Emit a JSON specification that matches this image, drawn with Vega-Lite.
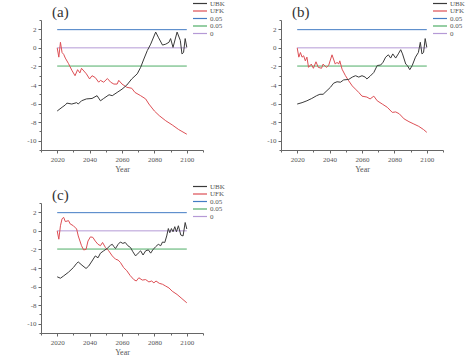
{
  "$schema": "https://vega.github.io/schema/vega-lite/v6.json",
  "background": "white",
  "padding": {"left": 26, "top": 0, "right": 0, "bottom": 0},
  "columns": 2,
  "spacing": {"row": 10, "column": 40},
  "data": {"values": [
    {"panel":"a","series":"0.05(+)","year":2020,"value":1.96},{"panel":"a","series":"0.05(+)","year":2100,"value":1.96},
    {"panel":"a","series":"0.05(-)","year":2020,"value":-1.96},{"panel":"a","series":"0.05(-)","year":2100,"value":-1.96},
    {"panel":"a","series":"0","year":2020,"value":0},{"panel":"a","series":"0","year":2100,"value":0},
    {"panel":"b","series":"0.05(+)","year":2020,"value":1.96},{"panel":"b","series":"0.05(+)","year":2100,"value":1.96},
    {"panel":"b","series":"0.05(-)","year":2020,"value":-1.96},{"panel":"b","series":"0.05(-)","year":2100,"value":-1.96},
    {"panel":"b","series":"0","year":2020,"value":0},{"panel":"b","series":"0","year":2100,"value":0},
    {"panel":"c","series":"0.05(+)","year":2020,"value":1.96},{"panel":"c","series":"0.05(+)","year":2100,"value":1.96},
    {"panel":"c","series":"0.05(-)","year":2020,"value":-1.96},{"panel":"c","series":"0.05(-)","year":2100,"value":-1.96},
    {"panel":"c","series":"0","year":2020,"value":0},{"panel":"c","series":"0","year":2100,"value":0},

    {"panel":"a","series":"UFK","year":2020,"value":0},{"panel":"a","series":"UFK","year":2021,"value":-1.0},{"panel":"a","series":"UFK","year":2022,"value":0.6},{"panel":"a","series":"UFK","year":2023,"value":-0.5},{"panel":"a","series":"UFK","year":2024,"value":-0.7},{"panel":"a","series":"UFK","year":2025,"value":-1.1},{"panel":"a","series":"UFK","year":2027,"value":-1.7},{"panel":"a","series":"UFK","year":2029,"value":-2.4},{"panel":"a","series":"UFK","year":2031,"value":-3.0},{"panel":"a","series":"UFK","year":2032.6,"value":-2.35},{"panel":"a","series":"UFK","year":2034,"value":-2.7},{"panel":"a","series":"UFK","year":2035,"value":-2.2},{"panel":"a","series":"UFK","year":2038,"value":-2.8},{"panel":"a","series":"UFK","year":2040,"value":-3.35},{"panel":"a","series":"UFK","year":2041.5,"value":-3.0},{"panel":"a","series":"UFK","year":2043.5,"value":-3.2},{"panel":"a","series":"UFK","year":2045.6,"value":-3.7},{"panel":"a","series":"UFK","year":2046.7,"value":-3.5},{"panel":"a","series":"UFK","year":2048.7,"value":-3.7},{"panel":"a","series":"UFK","year":2051,"value":-3.3},{"panel":"a","series":"UFK","year":2053,"value":-3.7},{"panel":"a","series":"UFK","year":2055,"value":-3.9},{"panel":"a","series":"UFK","year":2057,"value":-3.9},{"panel":"a","series":"UFK","year":2058,"value":-3.5},{"panel":"a","series":"UFK","year":2060,"value":-3.9},{"panel":"a","series":"UFK","year":2063,"value":-4.25},{"panel":"a","series":"UFK","year":2066,"value":-4.35},{"panel":"a","series":"UFK","year":2068,"value":-4.8},{"panel":"a","series":"UFK","year":2071.5,"value":-5.15},{"panel":"a","series":"UFK","year":2074.6,"value":-5.5},{"panel":"a","series":"UFK","year":2076.6,"value":-6.05},{"panel":"a","series":"UFK","year":2080,"value":-6.8},{"panel":"a","series":"UFK","year":2083,"value":-7.3},{"panel":"a","series":"UFK","year":2087,"value":-7.85},{"panel":"a","series":"UFK","year":2091,"value":-8.3},{"panel":"a","series":"UFK","year":2095,"value":-8.8},{"panel":"a","series":"UFK","year":2097,"value":-9.0},{"panel":"a","series":"UFK","year":2100,"value":-9.3},

    {"panel":"a","series":"UBK","year":2020,"value":-6.8},{"panel":"a","series":"UBK","year":2023,"value":-6.4},{"panel":"a","series":"UBK","year":2025,"value":-6.15},{"panel":"a","series":"UBK","year":2026,"value":-5.95},{"panel":"a","series":"UBK","year":2029,"value":-6.05},{"panel":"a","series":"UBK","year":2032,"value":-5.9},{"panel":"a","series":"UBK","year":2033,"value":-6.05},{"panel":"a","series":"UBK","year":2035,"value":-5.7},{"panel":"a","series":"UBK","year":2038,"value":-5.5},{"panel":"a","series":"UBK","year":2041.5,"value":-5.45},{"panel":"a","series":"UBK","year":2044.6,"value":-5.15},{"panel":"a","series":"UBK","year":2046.7,"value":-5.7},{"panel":"a","series":"UBK","year":2048.7,"value":-5.45},{"panel":"a","series":"UBK","year":2052,"value":-5.05},{"panel":"a","series":"UBK","year":2054,"value":-5.15},{"panel":"a","series":"UBK","year":2057,"value":-4.8},{"panel":"a","series":"UBK","year":2060,"value":-4.45},{"panel":"a","series":"UBK","year":2063,"value":-4.0},{"panel":"a","series":"UBK","year":2066,"value":-3.35},{"panel":"a","series":"UBK","year":2069.4,"value":-2.8},{"panel":"a","series":"UBK","year":2071.5,"value":-2.1},{"panel":"a","series":"UBK","year":2073.5,"value":-1.2},{"panel":"a","series":"UBK","year":2075.6,"value":-0.3},{"panel":"a","series":"UBK","year":2077.7,"value":0.4},{"panel":"a","series":"UBK","year":2080.8,"value":1.7},{"panel":"a","series":"UBK","year":2082.4,"value":1.15},{"panel":"a","series":"UBK","year":2085,"value":0.3},{"panel":"a","series":"UBK","year":2087,"value":0.4},{"panel":"a","series":"UBK","year":2089,"value":0.6},{"panel":"a","series":"UBK","year":2090,"value":1.0},{"panel":"a","series":"UBK","year":2091.5,"value":0.05},{"panel":"a","series":"UBK","year":2094,"value":1.7},{"panel":"a","series":"UBK","year":2096,"value":0.8},{"panel":"a","series":"UBK","year":2097,"value":-0.65},{"panel":"a","series":"UBK","year":2098,"value":-0.5},{"panel":"a","series":"UBK","year":2099,"value":1.0},{"panel":"a","series":"UBK","year":2100,"value":0.05},

    {"panel":"b","series":"UFK","year":2020,"value":0},{"panel":"b","series":"UFK","year":2021,"value":-1.0},{"panel":"b","series":"UFK","year":2022,"value":-0.5},{"panel":"b","series":"UFK","year":2023,"value":-1.0},{"panel":"b","series":"UFK","year":2024,"value":-0.85},{"panel":"b","series":"UFK","year":2025,"value":-1.4},{"panel":"b","series":"UFK","year":2026,"value":-1.0},{"panel":"b","series":"UFK","year":2027,"value":-2.1},{"panel":"b","series":"UFK","year":2028.7,"value":-1.75},{"panel":"b","series":"UFK","year":2030,"value":-2.2},{"panel":"b","series":"UFK","year":2031.6,"value":-1.5},{"panel":"b","series":"UFK","year":2033,"value":-2.1},{"panel":"b","series":"UFK","year":2035,"value":-2.2},{"panel":"b","series":"UFK","year":2036,"value":-1.75},{"panel":"b","series":"UFK","year":2038,"value":-2.1},{"panel":"b","series":"UFK","year":2039.4,"value":-1.9},{"panel":"b","series":"UFK","year":2041.5,"value":-0.75},{"panel":"b","series":"UFK","year":2043.5,"value":-1.75},{"panel":"b","series":"UFK","year":2044.6,"value":-1.55},{"panel":"b","series":"UFK","year":2045.6,"value":-1.75},{"panel":"b","series":"UFK","year":2046.3,"value":-1.4},{"panel":"b","series":"UFK","year":2047.7,"value":-2.3},{"panel":"b","series":"UFK","year":2049.8,"value":-3.0},{"panel":"b","series":"UFK","year":2051.8,"value":-3.55},{"panel":"b","series":"UFK","year":2054,"value":-4.1},{"panel":"b","series":"UFK","year":2056,"value":-4.45},{"panel":"b","series":"UFK","year":2058,"value":-4.8},{"panel":"b","series":"UFK","year":2060,"value":-5.2},{"panel":"b","series":"UFK","year":2063,"value":-5.3},{"panel":"b","series":"UFK","year":2065,"value":-5.5},{"panel":"b","series":"UFK","year":2067.3,"value":-5.2},{"panel":"b","series":"UFK","year":2069.4,"value":-5.7},{"panel":"b","series":"UFK","year":2072.5,"value":-6.05},{"panel":"b","series":"UFK","year":2075.6,"value":-6.4},{"panel":"b","series":"UFK","year":2078.7,"value":-6.95},{"panel":"b","series":"UFK","year":2080.8,"value":-6.9},{"panel":"b","series":"UFK","year":2083,"value":-7.1},{"panel":"b","series":"UFK","year":2086,"value":-7.65},{"panel":"b","series":"UFK","year":2089,"value":-7.95},{"panel":"b","series":"UFK","year":2092,"value":-8.2},{"panel":"b","series":"UFK","year":2095,"value":-8.45},{"panel":"b","series":"UFK","year":2098,"value":-8.8},{"panel":"b","series":"UFK","year":2100,"value":-9.1},

    {"panel":"b","series":"UBK","year":2020,"value":-6.05},{"panel":"b","series":"UBK","year":2023,"value":-5.9},{"panel":"b","series":"UBK","year":2026,"value":-5.7},{"panel":"b","series":"UBK","year":2029,"value":-5.45},{"panel":"b","series":"UBK","year":2032,"value":-5.15},{"panel":"b","series":"UBK","year":2034,"value":-5.0},{"panel":"b","series":"UBK","year":2036,"value":-5.0},{"panel":"b","series":"UBK","year":2038.4,"value":-4.6},{"panel":"b","series":"UBK","year":2040.5,"value":-4.25},{"panel":"b","series":"UBK","year":2042.5,"value":-3.8},{"panel":"b","series":"UBK","year":2044.6,"value":-3.65},{"panel":"b","series":"UBK","year":2046.7,"value":-3.7},{"panel":"b","series":"UBK","year":2048.7,"value":-3.45},{"panel":"b","series":"UBK","year":2051.8,"value":-3.4},{"panel":"b","series":"UBK","year":2054,"value":-3.15},{"panel":"b","series":"UBK","year":2056,"value":-3.0},{"panel":"b","series":"UBK","year":2058,"value":-3.15},{"panel":"b","series":"UBK","year":2060,"value":-3.0},{"panel":"b","series":"UBK","year":2062,"value":-3.15},{"panel":"b","series":"UBK","year":2063,"value":-3.35},{"panel":"b","series":"UBK","year":2065,"value":-3.05},{"panel":"b","series":"UBK","year":2067.3,"value":-2.65},{"panel":"b","series":"UBK","year":2069.4,"value":-1.9},{"panel":"b","series":"UBK","year":2071.5,"value":-1.85},{"panel":"b","series":"UBK","year":2073,"value":-1.55},{"panel":"b","series":"UBK","year":2074.6,"value":-1.0},{"panel":"b","series":"UBK","year":2076.3,"value":-0.75},{"panel":"b","series":"UBK","year":2077.7,"value":-1.1},{"panel":"b","series":"UBK","year":2079,"value":-0.65},{"panel":"b","series":"UBK","year":2080.8,"value":-1.1},{"panel":"b","series":"UBK","year":2082.4,"value":-0.65},{"panel":"b","series":"UBK","year":2083.9,"value":-0.2},{"panel":"b","series":"UBK","year":2085,"value":-0.65},{"panel":"b","series":"UBK","year":2087,"value":-1.75},{"panel":"b","series":"UBK","year":2088,"value":-1.9},{"panel":"b","series":"UBK","year":2089.5,"value":-2.35},{"panel":"b","series":"UBK","year":2091,"value":-1.9},{"panel":"b","series":"UBK","year":2093,"value":-1.0},{"panel":"b","series":"UBK","year":2094.8,"value":-0.5},{"panel":"b","series":"UBK","year":2096,"value":0.6},{"panel":"b","series":"UBK","year":2097,"value":-0.65},{"panel":"b","series":"UBK","year":2098,"value":-0.5},{"panel":"b","series":"UBK","year":2099,"value":1.0},{"panel":"b","series":"UBK","year":2100,"value":0.05},

    {"panel":"c","series":"UFK","year":2020,"value":0},{"panel":"c","series":"UFK","year":2021,"value":-0.9},{"panel":"c","series":"UFK","year":2022,"value":0.55},{"panel":"c","series":"UFK","year":2023,"value":1.3},{"panel":"c","series":"UFK","year":2024,"value":1.45},{"panel":"c","series":"UFK","year":2025,"value":1.0},{"panel":"c","series":"UFK","year":2027,"value":1.1},{"panel":"c","series":"UFK","year":2028,"value":0.75},{"panel":"c","series":"UFK","year":2030,"value":0.55},{"panel":"c","series":"UFK","year":2032,"value":0.2},{"panel":"c","series":"UFK","year":2033,"value":-0.55},{"panel":"c","series":"UFK","year":2035,"value":-1.6},{"panel":"c","series":"UFK","year":2036.3,"value":-2.05},{"panel":"c","series":"UFK","year":2037.8,"value":-2.0},{"panel":"c","series":"UFK","year":2039,"value":-1.1},{"panel":"c","series":"UFK","year":2040.5,"value":-0.65},{"panel":"c","series":"UFK","year":2042,"value":-0.7},{"panel":"c","series":"UFK","year":2043.5,"value":-1.1},{"panel":"c","series":"UFK","year":2045.2,"value":-1.45},{"panel":"c","series":"UFK","year":2046.7,"value":-1.6},{"panel":"c","series":"UFK","year":2048,"value":-1.25},{"panel":"c","series":"UFK","year":2049.8,"value":-1.8},{"panel":"c","series":"UFK","year":2051.8,"value":-2.15},{"panel":"c","series":"UFK","year":2054,"value":-2.7},{"panel":"c","series":"UFK","year":2056,"value":-3.05},{"panel":"c","series":"UFK","year":2057.6,"value":-3.15},{"panel":"c","series":"UFK","year":2059,"value":-3.4},{"panel":"c","series":"UFK","year":2061,"value":-3.95},{"panel":"c","series":"UFK","year":2063,"value":-4.3},{"panel":"c","series":"UFK","year":2065,"value":-4.8},{"panel":"c","series":"UFK","year":2067.3,"value":-5.25},{"panel":"c","series":"UFK","year":2068.8,"value":-5.4},{"panel":"c","series":"UFK","year":2070.4,"value":-5.05},{"panel":"c","series":"UFK","year":2072.5,"value":-5.3},{"panel":"c","series":"UFK","year":2074.6,"value":-5.25},{"panel":"c","series":"UFK","year":2076.6,"value":-5.5},{"panel":"c","series":"UFK","year":2078.3,"value":-5.4},{"panel":"c","series":"UFK","year":2079.7,"value":-5.6},{"panel":"c","series":"UFK","year":2081,"value":-5.4},{"panel":"c","series":"UFK","year":2083,"value":-5.65},{"panel":"c","series":"UFK","year":2085,"value":-5.75},{"panel":"c","series":"UFK","year":2087,"value":-5.95},{"panel":"c","series":"UFK","year":2089,"value":-6.15},{"panel":"c","series":"UFK","year":2091,"value":-6.5},{"panel":"c","series":"UFK","year":2094,"value":-6.85},{"panel":"c","series":"UFK","year":2097,"value":-7.3},{"panel":"c","series":"UFK","year":2100,"value":-7.75},

    {"panel":"c","series":"UBK","year":2020,"value":-4.95},{"panel":"c","series":"UBK","year":2022,"value":-5.1},{"panel":"c","series":"UBK","year":2024,"value":-4.85},{"panel":"c","series":"UBK","year":2027,"value":-4.45},{"panel":"c","series":"UBK","year":2030,"value":-3.95},{"panel":"c","series":"UBK","year":2032,"value":-3.5},{"panel":"c","series":"UBK","year":2033,"value":-3.35},{"panel":"c","series":"UBK","year":2035.3,"value":-3.7},{"panel":"c","series":"UBK","year":2037.8,"value":-4.05},{"panel":"c","series":"UBK","year":2039.4,"value":-3.8},{"panel":"c","series":"UBK","year":2041.5,"value":-3.25},{"panel":"c","series":"UBK","year":2043.5,"value":-2.7},{"panel":"c","series":"UBK","year":2045.2,"value":-2.9},{"panel":"c","series":"UBK","year":2046.7,"value":-2.4},{"panel":"c","series":"UBK","year":2048.7,"value":-2.15},{"panel":"c","series":"UBK","year":2050.8,"value":-1.9},{"panel":"c","series":"UBK","year":2052.9,"value":-1.55},{"panel":"c","series":"UBK","year":2054,"value":-1.45},{"panel":"c","series":"UBK","year":2055,"value":-1.7},{"panel":"c","series":"UBK","year":2056,"value":-1.9},{"panel":"c","series":"UBK","year":2057.6,"value":-1.45},{"panel":"c","series":"UBK","year":2059,"value":-1.2},{"panel":"c","series":"UBK","year":2060.5,"value":-1.35},{"panel":"c","series":"UBK","year":2062,"value":-1.25},{"panel":"c","series":"UBK","year":2063.6,"value":-1.6},{"panel":"c","series":"UBK","year":2065.3,"value":-1.8},{"panel":"c","series":"UBK","year":2066.7,"value":-2.25},{"panel":"c","series":"UBK","year":2068.4,"value":-2.7},{"panel":"c","series":"UBK","year":2070,"value":-2.4},{"panel":"c","series":"UBK","year":2071.5,"value":-2.15},{"panel":"c","series":"UBK","year":2073,"value":-2.6},{"panel":"c","series":"UBK","year":2074.6,"value":-2.15},{"panel":"c","series":"UBK","year":2076.3,"value":-2.05},{"panel":"c","series":"UBK","year":2077.7,"value":-2.4},{"panel":"c","series":"UBK","year":2079,"value":-2.05},{"panel":"c","series":"UBK","year":2080.8,"value":-1.7},{"panel":"c","series":"UBK","year":2082.4,"value":-1.45},{"panel":"c","series":"UBK","year":2083.9,"value":-1.6},{"panel":"c","series":"UBK","year":2085,"value":-1.2},{"panel":"c","series":"UBK","year":2086.4,"value":-1.25},{"panel":"c","series":"UBK","year":2087.6,"value":-0.55},{"panel":"c","series":"UBK","year":2088.6,"value":0.25},{"panel":"c","series":"UBK","year":2089.5,"value":-0.2},{"panel":"c","series":"UBK","year":2090.5,"value":0.25},{"panel":"c","series":"UBK","year":2091.5,"value":-0.1},{"panel":"c","series":"UBK","year":2092.6,"value":0.45},{"panel":"c","series":"UBK","year":2093.6,"value":-0.1},{"panel":"c","series":"UBK","year":2094.8,"value":0.55},{"panel":"c","series":"UBK","year":2096.3,"value":-0.45},{"panel":"c","series":"UBK","year":2097.7,"value":-0.55},{"panel":"c","series":"UBK","year":2099,"value":0.9},{"panel":"c","series":"UBK","year":2100,"value":0.2}
  ]},
  "concat": [
    {
      "title": {"text": "(a)"},
      "width": 162, "height": 130,
      "transform": [{"filter": "datum.panel == 'a'"}],
      "mark": {"type": "line", "strokeWidth": 1},
      "encoding": {
        "x": {"field": "year", "type": "quantitative", "scale": {"domain": [2010, 2110], "nice": false, "zero": false}, "axis": {"title": "Year", "values": [2010, 2020, 2030, 2040, 2050, 2060, 2070, 2080, 2090, 2100, 2110], "labelExpr": "datum.value % 20 == 0 && datum.value >= 2020 && datum.value <= 2100 ? '' + datum.value : ''", "tickSize": {"condition": {"test": "datum.value % 20 != 0", "value": 2}, "value": 3}}},
        "y": {"field": "value", "type": "quantitative", "scale": {"domain": [-11, 3], "nice": false}, "axis": {"title": null, "values": [-11, -10, -9, -8, -7, -6, -5, -4, -3, -2, -1, 0, 1, 2, 3], "labelExpr": "datum.value % 2 == 0 ? '' + datum.value : ''", "tickSize": {"condition": {"test": "datum.value % 2 != 0", "value": 2}, "value": 3}}},
        "color": {"field": "series", "type": "nominal", "scale": {"domain": ["UBK", "UFK", "0.05(+)", "0.05(-)", "0"], "range": ["#3a3a3a", "#dd4f55", "#437cc4", "#4fae66", "#b59ad6"]}, "legend": {"labelExpr": "datum.label == 'UBK' || datum.label == 'UFK' || datum.label == '0' ? datum.label : '0.05'"}}
      }
    },
    {
      "title": {"text": "(b)"},
      "width": 162, "height": 130,
      "transform": [{"filter": "datum.panel == 'b'"}],
      "mark": {"type": "line", "strokeWidth": 1},
      "encoding": {
        "x": {"field": "year", "type": "quantitative", "scale": {"domain": [2010, 2110], "nice": false, "zero": false}, "axis": {"title": "Year", "values": [2010, 2020, 2030, 2040, 2050, 2060, 2070, 2080, 2090, 2100, 2110], "labelExpr": "datum.value % 20 == 0 && datum.value >= 2020 && datum.value <= 2100 ? '' + datum.value : ''", "tickSize": {"condition": {"test": "datum.value % 20 != 0", "value": 2}, "value": 3}}},
        "y": {"field": "value", "type": "quantitative", "scale": {"domain": [-11, 3], "nice": false}, "axis": {"title": null, "values": [-11, -10, -9, -8, -7, -6, -5, -4, -3, -2, -1, 0, 1, 2, 3], "labelExpr": "datum.value % 2 == 0 ? '' + datum.value : ''", "tickSize": {"condition": {"test": "datum.value % 2 != 0", "value": 2}, "value": 3}}},
        "color": {"field": "series", "type": "nominal", "scale": {"domain": ["UBK", "UFK", "0.05(+)", "0.05(-)", "0"], "range": ["#3a3a3a", "#dd4f55", "#437cc4", "#4fae66", "#b59ad6"]}, "legend": {"labelExpr": "datum.label == 'UBK' || datum.label == 'UFK' || datum.label == '0' ? datum.label : '0.05'"}}
      }
    },
    {
      "title": {"text": "(c)"},
      "width": 162, "height": 130,
      "transform": [{"filter": "datum.panel == 'c'"}],
      "mark": {"type": "line", "strokeWidth": 1},
      "encoding": {
        "x": {"field": "year", "type": "quantitative", "scale": {"domain": [2010, 2110], "nice": false, "zero": false}, "axis": {"title": "Year", "values": [2010, 2020, 2030, 2040, 2050, 2060, 2070, 2080, 2090, 2100, 2110], "labelExpr": "datum.value % 20 == 0 && datum.value >= 2020 && datum.value <= 2100 ? '' + datum.value : ''", "tickSize": {"condition": {"test": "datum.value % 20 != 0", "value": 2}, "value": 3}}},
        "y": {"field": "value", "type": "quantitative", "scale": {"domain": [-11, 3], "nice": false}, "axis": {"title": null, "values": [-11, -10, -9, -8, -7, -6, -5, -4, -3, -2, -1, 0, 1, 2, 3], "labelExpr": "datum.value % 2 == 0 ? '' + datum.value : ''", "tickSize": {"condition": {"test": "datum.value % 2 != 0", "value": 2}, "value": 3}}},
        "color": {"field": "series", "type": "nominal", "scale": {"domain": ["UBK", "UFK", "0.05(+)", "0.05(-)", "0"], "range": ["#3a3a3a", "#dd4f55", "#437cc4", "#4fae66", "#b59ad6"]}, "legend": {"labelExpr": "datum.label == 'UBK' || datum.label == 'UFK' || datum.label == '0' ? datum.label : '0.05'"}}
      }
    }
  ],
  "resolve": {"scale": {"color": "independent"}, "legend": {"color": "independent"}},
  "config": {
    "view": {"stroke": null},
    "font": "Liberation Serif",
    "title": {"anchor": "start", "frame": "group", "dx": 11, "offset": -20, "fontSize": 15, "fontWeight": "normal", "color": "#333", "font": "Liberation Serif"},
    "axis": {"grid": false, "labelFont": "Liberation Serif", "labelFontSize": 7, "labelColor": "#555", "domainColor": "#666", "tickColor": "#666", "titleFont": "Liberation Serif", "titleFontSize": 8, "titleFontWeight": "normal", "titleColor": "#555", "labelPadding": 2, "titlePadding": 3},
    "legend": {"orient": "none", "legendX": 155.5, "legendY": -20, "title": null, "symbolType": "M-2.8,0H2.8", "symbolSize": 25, "symbolStrokeWidth": 1.2, "labelFont": "Liberation Serif", "labelFontSize": 7, "labelColor": "#555", "rowPadding": -0.5, "labelOffset": 6.5}
  }
}
